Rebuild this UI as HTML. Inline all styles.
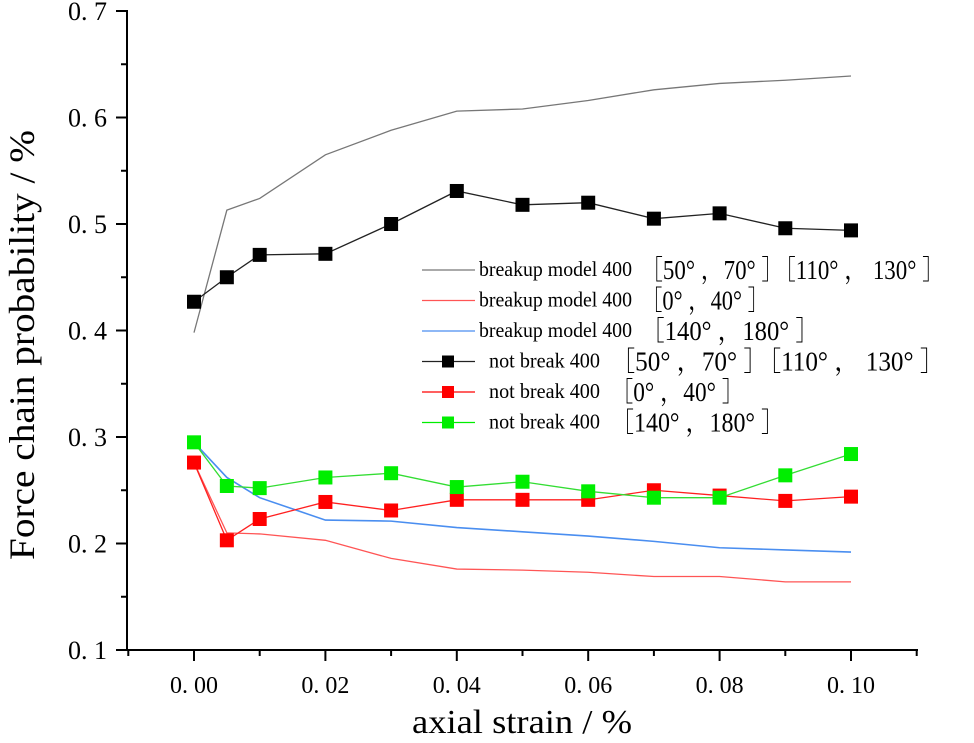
<!DOCTYPE html>
<html><head><meta charset="utf-8"><style>body{margin:0;background:#fff}svg{display:block}text{font-family:"Liberation Serif","Noto Serif CJK SC",serif}</style></head>
<body>
<svg id="c" width="974" height="743" viewBox="0 0 974 743"></svg>
<script>
const xs=[0,0.005,0.01,0.02,0.03,0.04,0.05,0.06,0.07,0.08,0.09,0.10];
const grayLine=[0.398,0.513,0.524,0.565,0.588,0.606,0.608,0.616,0.626,0.632,0.635,0.639];
const redLine=[0.276,0.210,0.209,0.203,0.186,0.176,0.175,0.173,0.169,0.169,0.164,0.164];
const blueLine=[0.295,0.262,0.243,0.222,0.221,0.215,0.211,0.207,0.202,0.196,0.194,0.192];
const blackSq=[0.427,0.450,0.471,0.472,0.500,0.531,0.518,0.520,0.505,0.510,0.496,0.494];
const redSq=[0.276,0.203,0.223,0.239,0.231,0.241,0.241,0.241,0.250,0.245,0.240,0.244];
const greenSq=[0.295,0.254,0.252,0.262,0.266,0.253,0.258,0.249,0.243,0.243,0.264,0.284];
const xTicks=[0,0.02,0.04,0.06,0.08,0.10];
const xTickLabels=["0. 00","0. 02","0. 04","0. 06","0. 08","0. 10"];
const yTicks=[0.1,0.2,0.3,0.4,0.5,0.6,0.7];
const yTickLabels=["0. 1","0. 2","0. 3","0. 4","0. 5","0. 6","0. 7"];
const X=v=>194+(v)*6570, Y=v=>650-(v-0.1)*1065;
const svg=document.getElementById('c');const NS='http://www.w3.org/2000/svg';
function mk(t,a,p){const e=document.createElementNS(NS,t);for(const k in a)e.setAttribute(k,a[k]);(p||svg).appendChild(e);return e;}
let e=mk('line',{x1:127,y1:650,x2:918,y2:650,stroke:'#000','stroke-width':2});


e=mk('line',{x1:127,y1:10,x2:127,y2:651,stroke:'#000','stroke-width':2});


for(let v=-0.01;v<=0.1101;v+=0.01){const major=Math.abs(Math.round(v*100))%2===0;mk('line',{x1:X(v),y1:650,x2:X(v),y2:major?661:656,stroke:'#000','stroke-width':2});}
xTicks.forEach((v,i)=>{e=mk('text',{x:X(v),y:693,'text-anchor':'middle','font-size':24});e.textContent=xTickLabels[i];

});
for(let v=0.1;v<=0.7001;v+=0.05){const major=Math.abs(Math.round(v*100))%10===0;mk('line',{x1:major?116:121,y1:Y(v),x2:127,y2:Y(v),stroke:'#000','stroke-width':2});}
yTicks.forEach((v,i)=>{e=mk('text',{x:107,y:Y(v)+9,'text-anchor':'end','font-size':26});e.textContent=yTickLabels[i];

});
e=mk('text',{x:412,y:733,'font-size':34,textLength:220,lengthAdjust:'spacingAndGlyphs'});e.textContent='axial strain / %';


e=mk('text',{x:0,y:0,'font-size':36,textLength:430,lengthAdjust:'spacingAndGlyphs',transform:'translate(34,560) rotate(-90)'});e.textContent='Force chain probability / %';


function line(vals,color,name,w){const p=mk('polyline',{points:xs.map((x,i)=>X(x)+','+Y(vals[i])).join(' '),fill:'none',stroke:color,'stroke-width':w||1.3});

}
line(grayLine,'#777','series-breakup-50-70');
line(redLine,'#ff5555','series-breakup-0-40');
line(blueLine,'#4a8ef0','series-breakup-140-180',1.6);
function sq(vals,color,name,lc){line(vals,lc,name+'-line',1.3);vals.forEach((v,i)=>{const r=mk('rect',{x:X(xs[i])-7,y:Y(v)-7,width:14,height:14,fill:color});

});}
sq(blackSq,'#000','series-notbreak-50-70','#222');
sq(redSq,'#ff0000','series-notbreak-0-40','#ff2020');
sq(greenSq,'#00ee00','series-notbreak-140-180','#33dd33');
const leg=[['line','#777','breakup model 400','［50° ，70° ］［110° ， 130° ］',305],['line','#ff5555','breakup model 400','［0° ，40° ］',130],['line','#4a8ef0','breakup model 400','［140° ，180° ］',180],['sq','#000','not break 400','［50° ，70° ］［110° ， 130° ］',335],['sq','#ff0000','not break 400','［0° ，40° ］',135],['sq','#00ee00','not break 400','［140° ，180° ］',175]];
const lg=mk('g',{});


leg.forEach((l,i)=>{const y=270+i*30.5;const g=mk('g',{},lg);


const isLine=l[0]==='line';
mk('line',{x1:422,y1:y,x2:475,y2:y,stroke:l[1]==='#000'?'#222':l[1],'stroke-width':1.3},g);
if(!isLine)mk('rect',{x:442,y:y-6,width:12,height:12,fill:l[1]},g);
const t=mk('text',{x:isLine?479:489,y:y+6,'font-size':21,textLength:isLine?153:111,lengthAdjust:'spacingAndGlyphs'},g);t.textContent=l[2];
const t2=mk('text',{x:isLine?640:610,y:y+9,'font-size':27,textLength:l[4],lengthAdjust:'spacingAndGlyphs'},g);t2.textContent=l[3];});
</script>
</body></html>
